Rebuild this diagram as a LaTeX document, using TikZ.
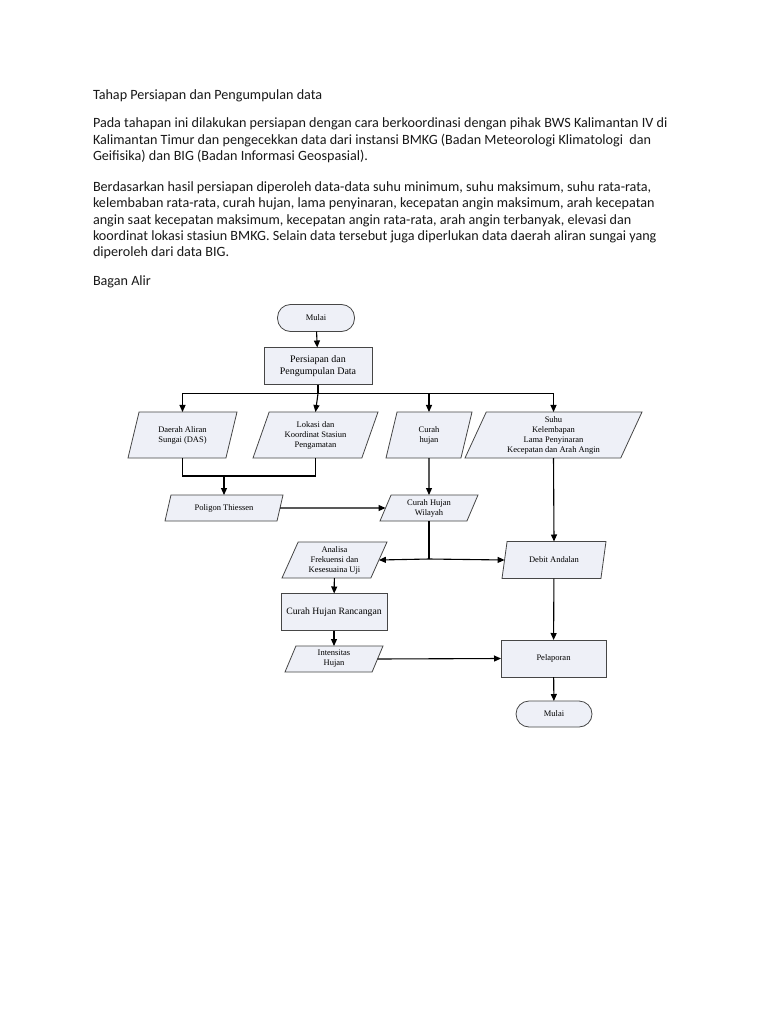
\documentclass[tikz,border=0pt]{standalone}
\usepackage{fontspec}
\setmainfont{Carlito}
\newfontfamily\chartfont{Liberation Serif}
\definecolor{shape-fill}{RGB}{238,240,247}
\definecolor{shape-line}{RGB}{70,70,70}
\definecolor{body-text}{RGB}{25,25,25}
\usetikzlibrary{
  shapes.geometric, % trapezium for the data boxes
  arrows.meta,      % filled arrow heads
  positioning
}
\tikzset{
  every node/.style = {inner sep=2pt, outer sep=0pt},
  chart/.append style = {draw=shape-line, fill=shape-fill, line width=0.8pt, align=center,
    font=\chartfont\fontsize{8.5}{10}\selectfont},
  terminal/.append style = {chart, rounded corners=13pt, minimum width=77pt, minimum height=27pt},
  process/.append style = {chart, rectangle, minimum width=106pt, minimum height=37pt},
  io/.append style = {chart, trapezium, trapezium left angle=63, trapezium right angle=117,
    trapezium stretches body},
  % anchored at the baseline of the last line
  bodypar/.append style = {anchor=base west, align=left, inner sep=0pt, text=body-text,
    font=\fontsize{14.15}{16.2}\selectfont},
  link/.append style = {draw, line width=1.1pt},
  >={Triangle[length=7pt,width=6pt]}  % arrow type
}

\begin{document}
\begin{tikzpicture}[x=1pt, y=-1pt]
\fill[white] (0,0) rectangle (768,1024);
\useasboundingbox (0,0) rectangle (768,1024);

% text above the chart
\node[bodypar] (title) at (93,100) {Tahap Persiapan dan Pengumpulan data};
\node[bodypar] (intro) at (93,160.4) {Pada tahapan ini dilakukan persiapan dengan cara berkoordinasi dengan pihak BWS Kalimantan IV di\\
  Kalimantan Timur dan pengecekkan data dari instansi BMKG (Badan Meteorologi Klimatologi\ \ dan\\
  Geifisika) dan BIG (Badan Informasi Geospasial).};
\node[bodypar] (result) at (93,256.5) {Berdasarkan hasil persiapan diperoleh data-data suhu minimum, suhu maksimum, suhu rata-rata,\\
  kelembaban rata-rata, curah hujan, lama penyinaran, kecepatan angin maksimum, arah kecepatan\\
  angin saat kecepatan maksimum, kecepatan angin rata-rata, arah angin terbanyak, elevasi dan\\
  koordinat lokasi stasiun BMKG. Selain data tersebut juga diperlukan data daerah aliran sungai yang\\
  diperoleh dari data BIG.};
\node[bodypar] (caption) at (93,285) {Bagan Alir};

% flow chart
\node[terminal] (start) at (316,318) {Mulai};
\node[process, minimum width=108pt, font=\chartfont\fontsize{10}{12}\selectfont] (prep) at (318,366) {Persiapan dan\\Pengumpulan Data};

\node[io, minimum width=109pt, minimum height=46pt] (das) at (182.5,435) {Daerah Aliran\\Sungai (DAS)};
\node[io, minimum width=125pt, minimum height=46pt] (lokasi) at (315.5,435) {Lokasi dan\\Koordinat Stasiun\\Pengamatan};
\node[io, minimum width=86pt, minimum height=46pt] (curah) at (429,435) {Curah\\hujan};
\node[io, minimum width=177pt, minimum height=46pt] (suhu) at (553.5,435) {Suhu\\Kelembapan\\Lama Penyinaran\\Kecepatan dan Arah Angin};

\node[io, minimum width=118pt, minimum height=26pt] (poligon) at (224,508) {Poligon Thiessen};
\node[io, minimum width=98pt, minimum height=26pt] (wilayah) at (429,508) {Curah Hujan\\Wilayah};

\node[io, minimum width=105pt, minimum height=36pt] (analisa) at (334.5,560) {Analisa\\Frekuensi dan\\Kesesuaina Uji};
\node[io, minimum width=104pt, minimum height=37pt] (debit) at (554,560) {Debit Andalan};
\node[process, font=\chartfont\fontsize{9.7}{12}\selectfont] (rancangan) at (334,612) {Curah Hujan Rancangan};
\node[io, minimum width=98pt, minimum height=26pt] (intensitas) at (334,659) {Intensitas\\Hujan};
\node[process, minimum width=105pt] (lapor) at (553.5,658.5) {Pelaporan};
\node[terminal, minimum width=76pt, minimum height=26pt] (finish) at (554,714) {Mulai};

\coordinate (join) at (poligon.north |- 0,476);

\draw[link,->] (start) -- (prep);
\draw[link] (prep.south) -- ++(0,9) coordinate (bus);
\draw[link,->] (bus) -| (das.north);
\draw[link,->] (bus) -- (lokasi.north);
\draw[link,->] (bus) -| (curah.north);
\draw[link,->] (bus) -| (suhu.north);

\draw[link] (das.south) |- (join) -| (lokasi.south);
\draw[link,->] (join) -- (poligon.north);
\draw[link,->] (curah) -- (wilayah);
\draw[link,->] (poligon.east) -- (wilayah.west);

\draw[link] (wilayah.south) -- ++(0,38) coordinate (split);
\draw[link,->] (split) -- (analisa.east);
\draw[link,->] (split) -- (debit.west);
\draw[link,->] (suhu.south) -- (debit.north);

\draw[link,->] (analisa) -- (rancangan);
\draw[link,->] (rancangan) -- (intensitas);
\draw[link,->] (intensitas.east) -- (lapor.west);
\draw[link,->] (debit) -- (lapor);
\draw[link,->] (lapor) -- (finish);
\end{tikzpicture}
\end{document}
